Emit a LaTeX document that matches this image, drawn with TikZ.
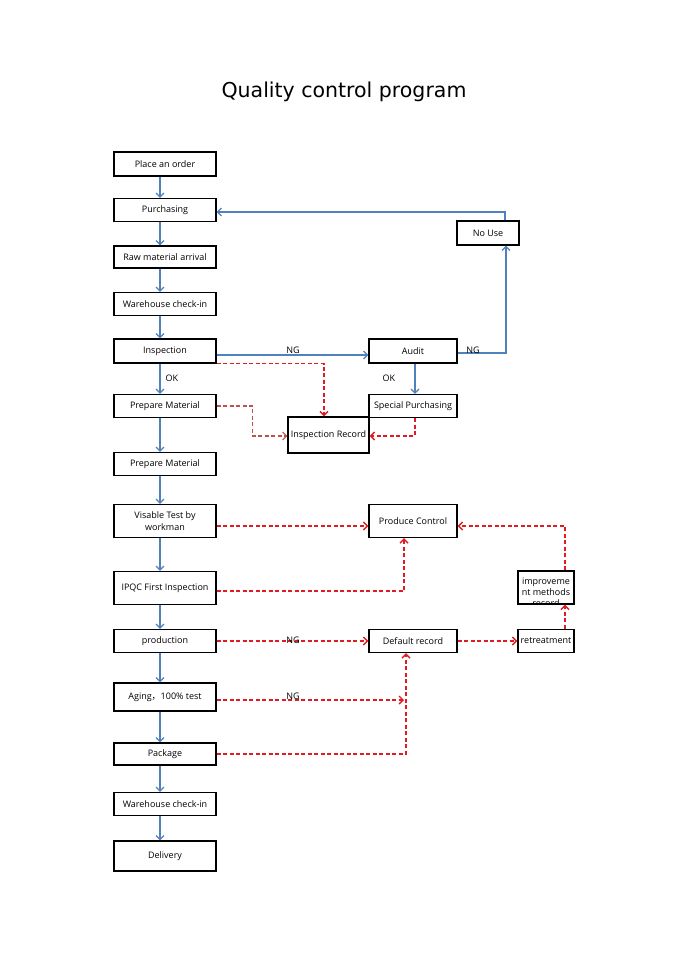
\documentclass[tikz,border=0pt]{standalone}
\usepackage{fontspec}
\setmainfont{Open Sans}
\newfontfamily\titlefont{DejaVu Sans}
\newfontfamily\cjk{Noto Sans CJK SC}
\usetikzlibrary{arrows.meta,calc}
\definecolor{qblue}{RGB}{79,129,189}
\definecolor{qred}{RGB}{222,28,34}
\definecolor{qdred}{RGB}{192,80,77}
\tikzset{
  box/.style={draw=black, line width=1.1pt, minimum width=102pt, minimum height=23pt, inner sep=1pt, font=\fontsize{9}{11.5}\selectfont, align=center},
  lbl/.style={font=\fontsize{9}{11}\selectfont, inner sep=0pt},
  tip/.style={-{Straight Barb[length=4pt,width=8pt]}},
  bluearrow/.style={draw=qblue, line width=1.3pt, tip},
  reddash/.style={draw=qred, line width=1.4pt, dash pattern=on 4pt off 2.5pt, tip},
  darkdash/.style={draw=qdred, line width=1.2pt, dash pattern=on 4pt off 2.5pt, tip}
}
\begin{document}
\begin{tikzpicture}[x=1pt,y=-1pt]
\useasboundingbox[fill=white] (0,0) rectangle (680,961);
\node[font=\titlefont\fontsize{20.5}{24}\selectfont, inner sep=0pt] (title) at (344,92) {Quality control program};

% left column
\node[box, minimum height=24pt] (ord) at (165,164) {Place an order};
\node[box] (pur) at (165,210) {Purchasing};
\node[box, minimum height=22pt] (raw) at (165,257) {Raw material arrival};
\node[box] (wh1) at (165,304) {Warehouse check-in};
\node[box, minimum height=24pt] (insp) at (165,351) {Inspection};
\node[box] (pm1) at (165,406) {Prepare Material};
\node[box] (pm2) at (165,464) {Prepare Material};
\node[box, minimum height=33pt] (vis) at (165,521) {Visable Test by\\workman};
\node[box, minimum height=33pt] (ipqc) at (165,588) {IPQC First Inspection};
\node[box] (prod) at (165,641) {production};
\node[box, minimum height=28pt] (aging) at (165,697) {Aging{\cjk ，}100\% test};
\node[box, minimum height=22pt] (pack) at (165,754) {Package};
\node[box] (wh2) at (165,804) {Warehouse check-in};
\node[box, minimum height=30pt] (del) at (165,856) {Delivery};

% other boxes
\node[box, minimum width=88pt, minimum height=24pt] (audit) at (413,351) {Audit};
\node[box, minimum width=88pt] (sp) at (413,406) {Special Purchasing};
\node[box, minimum width=81pt, minimum height=36pt] (ir) at (328.5,435) {Inspection Record};
\node[box, minimum width=62pt, minimum height=24pt] (nouse) at (488,233) {No Use};
\node[box, minimum width=88pt, minimum height=33pt] (pc) at (413,521) {Produce Control};
\node[box, minimum width=88pt] (dr) at (413,641) {Default record};
\node[box, minimum width=56pt] (ret) at (546,641) {retreatment};
\node[box, minimum width=56pt, minimum height=33pt] (imp) at (546,587.5) {};
\begin{scope}
  \clip ($(imp.south west)+(0,-0.5)$) rectangle (imp.north east);
  \node[lbl, anchor=north, align=center, font=\fontsize{9}{11}\selectfont] (imptext) at ($(imp.north)+(0,7.5)$) {improveme\\nt methods\\record};
\end{scope}

% blue main flow
\foreach \a/\b in {ord/pur, pur/raw, raw/wh1, wh1/insp, insp/pm1, pm1/pm2, pm2/vis, vis/ipqc, ipqc/prod, prod/aging, aging/pack, pack/wh2, wh2/del}
  \draw[bluearrow] ($(\a.south)+(-5,0)$) -- ($(\b.north)+(-5,0)$);

\draw[bluearrow] ($(insp.east)+(0,4)$) -- ($(audit.west)+(0,4)$);
\node[lbl] (ng1) at (293,350) {NG};
\node[lbl] (ok1) at (172,378) {OK};
\draw[bluearrow] ($(audit.south)+(2,0)$) -- ($(sp.north)+(2,0)$);
\node[lbl] (ok2) at (389,378) {OK};
\draw[bluearrow] ($(audit.east)+(0,2)$) -| ($(nouse.south)+(18,0)$);
\node[lbl] (ng2) at (473,350) {NG};
\draw[bluearrow] ($(nouse.north)+(17,0)$) |- ($(pur.east)+(0,2)$);

% red dashed
\draw[reddash] (insp.south east) -| ($(ir.north)+(-4.5,0)$);
\draw[darkdash] (pm1.east) -- ($(pm1.east)+(36,0)$) |- ($(ir.west)+(0,1)$);
\draw[reddash] ($(sp.south)+(2,0)$) |- ($(ir.east)+(0,1)$);
\draw[reddash] ($(vis.east)+(0,5)$) -- ($(pc.west)+(0,5)$);
\draw[reddash] ($(ipqc.east)+(0,3)$) -| ($(pc.south)+(-9,0)$);
\draw[reddash] ($(imp.north)+(19,0)$) |- ($(pc.east)+(0,5)$);
\draw[reddash] ($(ret.north)+(19,0)$) -- ($(imp.south)+(19,0)$);
\draw[reddash] (dr.east) -- (ret.west);
\draw[reddash] (prod.east) -- (dr.west);
\node[lbl] (ng3) at (293,640) {NG};
\coordinate (agend) at (404,700);
\draw[reddash] ($(aging.east)+(0,3)$) -- (agend);
\node[lbl] (ng4) at (293,696) {NG};
\draw[reddash] (pack.east) -| ($(dr.south)+(-7,0)$);
\end{tikzpicture}
\end{document}
